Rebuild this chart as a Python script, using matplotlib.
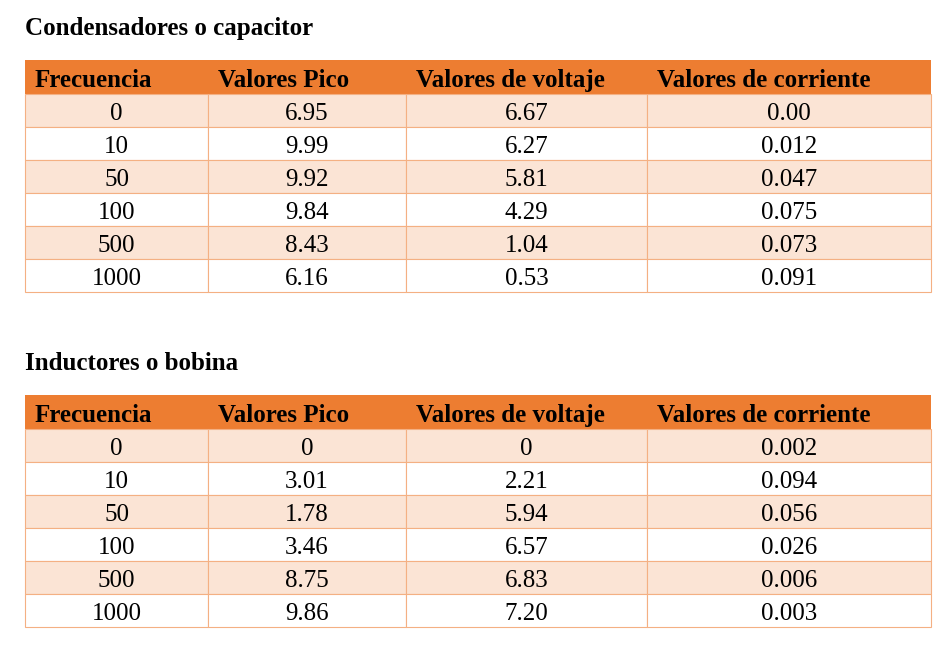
import matplotlib.pyplot as plt
from matplotlib.patches import Rectangle

plt.rcParams['font.family'] = ['Liberation Serif', 'DejaVu Serif']

headers = ["Frecuencia", "Valores Pico", "Valores de voltaje", "Valores de corriente"]
frecuencia = ["0", "10", "50", "100", "500", "1000"]

cap_pico = ["6.95", "9.99", "9.92", "9.84", "8.43", "6.16"]
cap_voltaje = ["6.67", "6.27", "5.81", "4.29", "1.04", "0.53"]
cap_corriente = ["0.00", "0.012", "0.047", "0.075", "0.073", "0.091"]

ind_pico = ["0", "3.01", "1.78", "3.46", "8.75", "9.86"]
ind_voltaje = ["0", "2.21", "5.94", "6.57", "6.83", "7.20"]
ind_corriente = ["0.002", "0.094", "0.056", "0.026", "0.006", "0.003"]

W, H = 950, 655
col_x = [25, 208, 406, 647, 931]
row_h = 33
orange = '#ED7D31'
peach = '#FBE4D5'
border = '#F4B083'

fig = plt.figure(figsize=(W / 100, H / 100), dpi=100)
ax = fig.add_axes([0, 0, 1, 1])
ax.set_xlim(0, W)
ax.set_ylim(H, 0)
ax.axis('off')


def draw_table(title, title_y, top, cols):
    ax.text(col_x[0], title_y, title, fontsize=18, fontweight='bold',
            ha='left', va='center_baseline')
    # header
    ax.add_patch(Rectangle((col_x[0], top), col_x[-1] - col_x[0], 34,
                           facecolor=orange, edgecolor='none'))
    for i, h in enumerate(headers):
        ax.text(col_x[i] + 10, top + 18, h, fontsize=18, fontweight='bold',
                ha='left', va='center_baseline')
    y0 = top + 34
    rows = list(zip(*cols))
    for r, row in enumerate(rows):
        y = y0 + r * row_h
        fc = peach if r % 2 == 0 else 'white'
        for c in range(4):
            ax.add_patch(Rectangle((col_x[c], y), col_x[c + 1] - col_x[c], row_h,
                                   facecolor=fc, edgecolor=border, linewidth=0.8))
            ax.text((col_x[c] + col_x[c + 1]) / 2, y + row_h / 2 + 1, row[c],
                    fontsize=18, ha='center', va='center_baseline')


draw_table("Condensadores o capacitor", 26, 60,
           [frecuencia, cap_pico, cap_voltaje, cap_corriente])
draw_table("Inductores o bobina", 361, 395,
           [frecuencia, ind_pico, ind_voltaje, ind_corriente])

fig.savefig('out.png', dpi=100, facecolor='white')
